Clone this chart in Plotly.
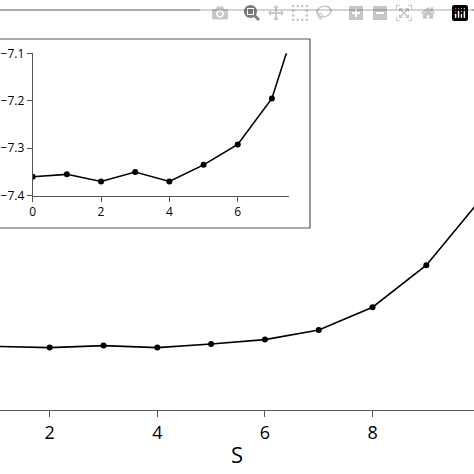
import plotly.graph_objects as go

# main chart (y in arbitrary relative units, axis labels are outside the visible crop)
main_x = [1, 2, 3, 4, 5, 6, 7, 8, 9, 10]
main_y = [0.159, 0.156, 0.161, 0.156, 0.165, 0.176, 0.200, 0.257, 0.362, 0.525]
main_ticks = [2, 4, 6, 8, 10]

# inset
ins_x = [0, 1, 2, 3, 4, 5, 6, 7, 8]
ins_y = [-7.360, -7.355, -7.370, -7.350, -7.370, -7.335, -7.292, -7.195, -6.97]
ins_xticks = [0, 2, 4, 6]
ins_yticks = [-7.4, -7.3, -7.2, -7.1]

W = H = 474
fig = go.Figure()
fig.add_trace(go.Scatter(x=main_x, y=main_y, mode="lines+markers",
                         line=dict(color="black", width=1.6),
                         marker=dict(color="black", size=6), cliponaxis=True))
fig.add_trace(go.Scatter(x=ins_x[:-1], y=ins_y[:-1], mode="markers",
                         marker=dict(color="black", size=6),
                         xaxis="x2", yaxis="y2"))
fig.add_trace(go.Scatter(x=ins_x, y=ins_y, mode="lines",
                         line=dict(color="black", width=1.6),
                         xaxis="x2", yaxis="y2", cliponaxis=True))

fig.update_layout(
    width=W, height=H, margin=dict(l=0, r=0, t=0, b=0),
    paper_bgcolor="white", plot_bgcolor="rgba(0,0,0,0)", showlegend=False,
    font=dict(family="Open Sans", color="black"),
    xaxis=dict(domain=[0, 1], range=[1.076, 9.886], tickvals=main_ticks, automargin=False,
               showline=True, linecolor="#555", linewidth=1.2, ticks="outside",
               ticklen=6, tickcolor="#555", showgrid=False, zeroline=False,
               tickfont=dict(size=18), title=dict(text="S", font=dict(size=22), standoff=4)),
    yaxis=dict(domain=[(H - 410) / H, (H - 10) / H], range=[0, 1], showticklabels=False,
               automargin=False, showgrid=False, zeroline=False, showline=False),
    xaxis2=dict(domain=[32.7 / W, 289 / W], range=[0, 7.5], anchor="y2", tickvals=ins_xticks,
                automargin=False,
                showline=True, linecolor="#555", linewidth=1, ticks="outside", ticklen=5,
                tickcolor="#555", showgrid=False, zeroline=False, tickfont=dict(size=12)),
    yaxis2=dict(domain=[(H - 195.7) / H, (H - 53.3) / H], range=[-7.4, -7.1], anchor="x2",
                tickvals=ins_yticks, tickformat=".1f", automargin=False,
                showline=True, linecolor="#555", linewidth=1, ticks="outside", ticklen=5,
                tickcolor="#555", showgrid=False, zeroline=False, tickfont=dict(size=12)),
    shapes=[
        dict(type="line", xref="paper", yref="paper", x0=0, x1=1,
             y0=(H - 10) / H, y1=(H - 10) / H, line=dict(color="#555", width=1.2)),
        dict(type="rect", xref="paper", yref="paper", x0=-0.01, x1=310 / W,
             y0=(H - 228) / H, y1=(H - 39) / H, fillcolor="white",
             line=dict(color="#555", width=1.2), layer="below"),
    ],
)
fig.write_html("out.html")
with open("out.html", encoding="utf-8") as f:
    html = f.read()
html = html.replace("<body>", '<body style="margin:0">', 1)
with open("out.html", "w", encoding="utf-8") as f:
    f.write(html)
